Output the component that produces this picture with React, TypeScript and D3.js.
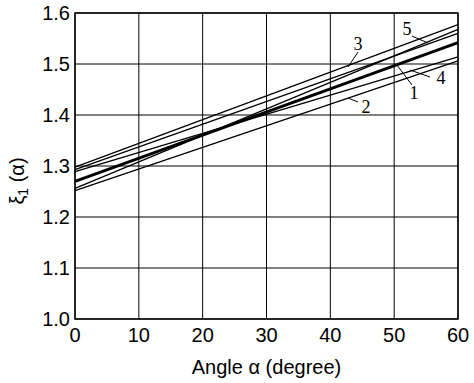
import React from "react";
import * as d3 from "d3";

const angles = [0, 60];
const series3 = [1.298, 1.577];
const series6 = [1.293, 1.56];
const series5 = [1.256, 1.568];
const series1 = [1.27, 1.542];
const series4 = [1.289, 1.514];
const series2 = [1.2516, 1.506];

const seriesList = [
  { name: "3", values: series3, thick: false },
  { name: "6", values: series6, thick: false },
  { name: "5", values: series5, thick: false },
  { name: "1", values: series1, thick: true },
  { name: "4", values: series4, thick: false },
  { name: "2", values: series2, thick: false },
];

const xTicks = [0, 10, 20, 30, 40, 50, 60];
const yTicks = [1.0, 1.1, 1.2, 1.3, 1.4, 1.5, 1.6];

// annotation labels in data units: text position and leader from/to
const labelNames = ["3", "5", "4", "1", "2"];
const labelX = [44.34, 52.0, 57.34, 53.11, 45.59];
const labelY = [1.5275, 1.5569, 1.4608, 1.4314, 1.4039];
const leadFromX = [44.34, 52.79, 55.61, 52.79, 44.34];
const leadFromY = [1.5235, 1.5549, 1.4745, 1.4588, 1.4255];
const leadToX = [42.77, 55.3, 52.48, 50.44, 42.77];
const leadToY = [1.4941, 1.5412, 1.4882, 1.498, 1.4333];

export default function App() {
  const W = 474;
  const H = 383;
  const left = 75;
  const right = 458;
  const top = 13;
  const bottom = 319;
  const x = d3.scaleLinear().domain([0, 60]).range([left, right]);
  const y = d3.scaleLinear().domain([1.0, 1.6]).range([bottom, top]);
  const line = d3
    .line<number>()
    .x((_, i) => x(angles[i]))
    .y((d) => y(d));
  const sans = "'Liberation Sans', Arial, sans-serif";
  const serif = "'Liberation Serif', 'Times New Roman', serif";

  return (
    <svg
      width={W}
      height={H}
      style={{ position: "fixed", left: 0, top: 0, background: "#fff" }}
    >
      <rect x={0} y={0} width={W} height={H} fill="#fff" />
      {xTicks.map((t) => (
        <line key={"gx" + t} x1={x(t)} x2={x(t)} y1={top} y2={bottom} stroke="#000" strokeWidth={1} />
      ))}
      {yTicks.map((t) => (
        <line key={"gy" + t} x1={left} x2={right} y1={y(t)} y2={y(t)} stroke="#000" strokeWidth={1} />
      ))}
      <rect x={left} y={top} width={right - left} height={bottom - top} fill="none" stroke="#000" strokeWidth={1.4} />
      {seriesList.map((s) => (
        <path
          key={s.name}
          d={line(s.values) || ""}
          fill="none"
          stroke="#000"
          strokeWidth={s.thick ? 3 : 1.3}
        />
      ))}
      {xTicks.map((t) => (
        <text key={"tx" + t} x={x(t)} y={bottom + 23} textAnchor="middle" fontFamily={sans} fontSize={20} fill="#000">
          {t}
        </text>
      ))}
      {yTicks.map((t) => (
        <text key={"ty" + t} x={left - 5} y={y(t)} dy="0.35em" textAnchor="end" fontFamily={sans} fontSize={20} fill="#000">
          {t.toFixed(1)}
        </text>
      ))}
      <text x={(left + right) / 2} y={374} textAnchor="middle" fontFamily={sans} fontSize={20} fill="#000">
        Angle α (degree)
      </text>
      <text
        transform={`translate(24,${(top + bottom) / 2 + 15}) rotate(-90)`}
        textAnchor="middle"
        fontFamily={sans}
        fontSize={20}
        fill="#000"
      >
        ξ<tspan fontSize={14} dy={4}>1</tspan>
        <tspan dy={-4}> (α)</tspan>
      </text>
      {labelNames.map((n, i) => (
        <g key={"lab" + n}>
          <line
            x1={x(leadFromX[i])}
            y1={y(leadFromY[i])}
            x2={x(leadToX[i])}
            y2={y(leadToY[i])}
            stroke="#000"
            strokeWidth={1}
          />
          <text x={x(labelX[i])} y={y(labelY[i])} textAnchor="middle" fontFamily={serif} fontSize={18} fill="#000">
            {n}
          </text>
        </g>
      ))}
    </svg>
  );
}
